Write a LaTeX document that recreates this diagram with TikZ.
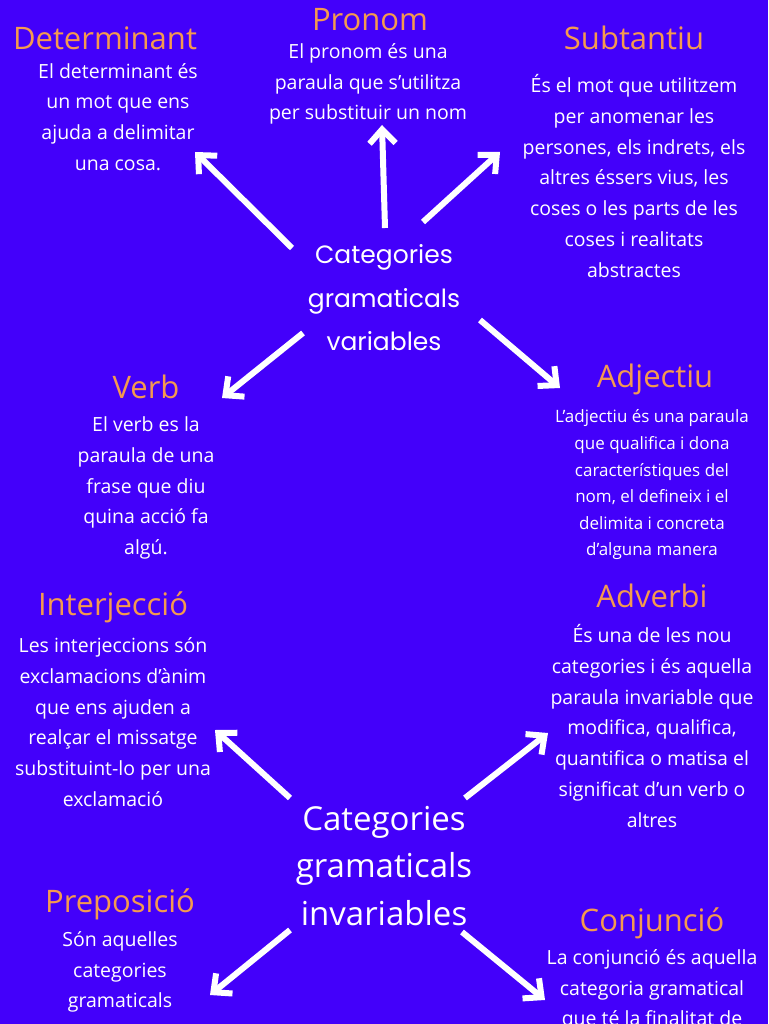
\documentclass[tikz,border=0pt]{standalone}
\usepackage{fontspec}
\setmainfont{Open Sans}
\newfontfamily\popfont{Poppins}
\usetikzlibrary{arrows.meta}
\definecolor{bg}{HTML}{4300FA}
\definecolor{org}{HTML}{F59A4E}
\tikzset{
  arr/.style={white,line width=6pt,-{Straight Barb[length=14pt,width=26pt,line width=6pt]}},
  ttl/.style={text=org,font=\fontsize{31}{36}\selectfont\addfontfeature{Scale=1}},
  bdy/.style={text=white,align=center,font=\fontsize{19.5}{30.7}\selectfont},
  sml/.style={text=white,align=center,font=\fontsize{17}{26.6}\selectfont},
}
\begin{document}
\begin{tikzpicture}[x=1pt,y=-1pt]
\fill[bg] (0,0) rectangle (768,1024);
\clip (0,0) rectangle (768,1024);
\useasboundingbox (0,0) rectangle (768,1024);
% centres
\node[text=white,align=center,font=\popfont\fontsize{25}{43.5}\selectfont] (var) at (384,298) {Categories\\gramaticals\\variables};
\node[text=white,align=center,font=\fontsize{33}{47.5}\selectfont\addfontfeature{FakeBold=0}] (inv) at (384,866) {Categories\\gramaticals\\invariables};
% titles
\node[ttl] (tdet) at (105,38) {Determinant};
\node[ttl] (tpro) at (370,20) {Pronom};
\node[ttl] (tsub) at (634,38) {Subtantiu};
\node[ttl] (tverb) at (146,387) {Verb};
\node[ttl] (tadj) at (655,379) {Adjectiu};
\node[ttl] (tint) at (113,607) {Interjecció};
\node[ttl] (tadv) at (652,596) {Adverbi};
\node[ttl] (tpre) at (120,904) {Preposició};
\node[ttl] (tcon) at (652,923) {Conjunció};
% bodies
\node[bdy] (bdet) at (118,117) {El determinant és\\un mot que ens\\ajuda a delimitar\\una cosa.};
\node[bdy] (bpro) at (368,84) {El pronom és una\\paraula que s’utilitza\\per substituir un nom};
\node[bdy] (bsub) at (634,176) {És el mot que utilitzem\\per anomenar les\\persones, els indrets, els\\altres éssers vius, les\\coses o les parts de les\\coses i realitats\\abstractes};
\node[bdy] (bverb) at (146,488) {El verb es la\\paraula de una\\frase que diu\\quina acció fa\\algú.};
\node[sml] (badj) at (652,485) {L’adjectiu és una paraula\\que qualifica i dona\\característiques del\\nom, el defineix i el\\delimita i concreta\\d’alguna manera};
\node[bdy] (bint) at (113,722) {Les interjeccions són\\exclamacions d’ànim\\que ens ajuden a\\realçar el missatge\\substituint-lo per una\\exclamació};
\node[bdy] (badv) at (652,726) {És una de les nou\\categories i és aquella\\paraula invariable que\\modifica, qualifica,\\quantifica o matisa el\\significat d’un verb o\\altres};
\node[bdy] (bpre) at (120,972) {Són aquelles\\categories\\gramaticals};
\node[bdy,anchor=north] (bcon) at (652,946) {La conjunció és aquella\\categoria gramatical\\que té la finalitat de};
% arrows
\coordinate (s1) at (292,248); \coordinate (e1) at (195,152);
\coordinate (s2) at (385,228); \coordinate (e2) at (382,125);
\coordinate (s3) at (423,222); \coordinate (e3) at (500,152);
\coordinate (s4) at (303,333); \coordinate (e4) at (222,398);
\coordinate (s5) at (480,320); \coordinate (e5) at (560,388);
\coordinate (s6) at (290,798); \coordinate (e6) at (215,730);
\coordinate (s7) at (465,798); \coordinate (e7) at (548,733);
\coordinate (s8) at (290,930); \coordinate (e8) at (210,995);
\coordinate (s9) at (462,932); \coordinate (e9) at (545,1000);
\foreach \i in {1,...,9} \draw[arr] (s\i) -- (e\i);
\end{tikzpicture}
\end{document}
